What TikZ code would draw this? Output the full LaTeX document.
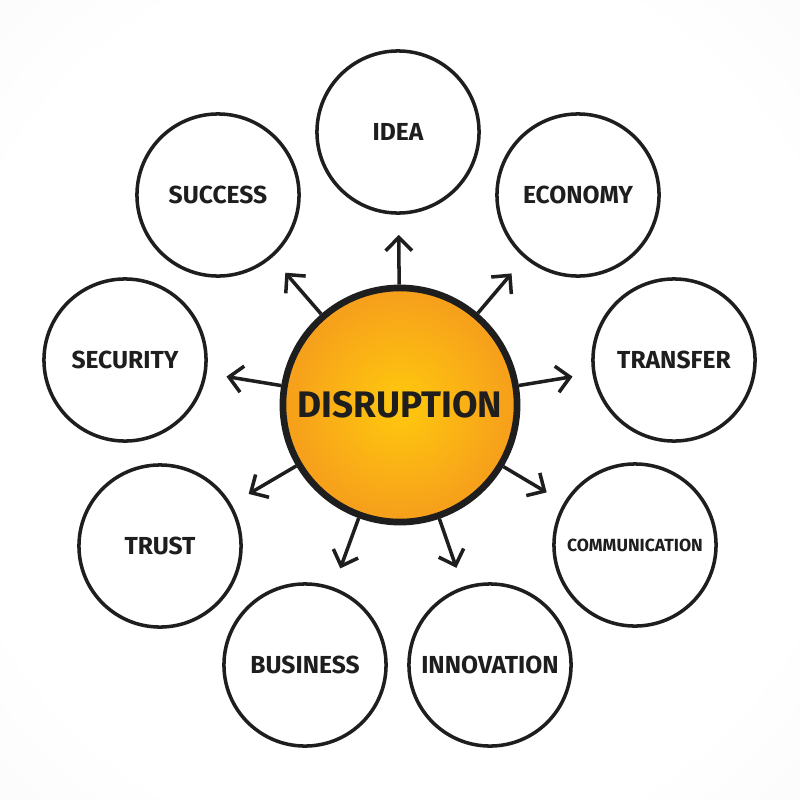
\documentclass[tikz,border=0pt]{standalone}
\usepackage{fontspec}
\setmainfont{Fira Sans}
\usetikzlibrary{arrows.meta}
\definecolor{hubinner}{HTML}{FFC90D}
\definecolor{hubouter}{HTML}{F69E1C}
\definecolor{backgray}{HTML}{EBEBEB}
\definecolor{ink}{HTML}{1E1E1E}
\pgfdeclareradialshading{backdrop}{\pgfpoint{0bp}{0bp}}{color(0bp)=(white); color(28bp)=(white); color(72bp)=(backgray)}

\begin{document}
\begin{tikzpicture}[x=0.01cm,y=-0.01cm,
    topic/.style={circle,draw=ink,line width=1pt,minimum size=1.62cm,inner sep=0pt,text=ink,font=\fontsize{7}{8}\selectfont\bfseries},
    hub/.style={circle,draw=ink,line width=1.9pt,minimum size=2.34cm,inner sep=0pt,inner color=hubinner,outer color=hubouter,text=ink,font=\fontsize{10.5}{12}\selectfont\bfseries},
    spoke/.style={draw=ink,line width=1pt,-{Straight Barb[length=3.8pt,width=7.5pt,line width=1pt]},shorten >=0.2cm}]
    \useasboundingbox (0,0) rectangle (800,800);
    \shade [shading=backdrop] (0,0) rectangle (800,800);
    % centre
    \node [hub] (hub) at (400,405) {DISRUPTION};
    % ring of topics
    \node [topic] (idea) at (398,132) {IDEA};
    \node [topic] (economy) at (578,195) {ECONOMY};
    \node [topic] (transfer) at (674,360) {TRANSFER};
    \node [topic,font=\fontsize{5}{6}\selectfont\bfseries] (communication) at (635,545) {COMMUNICATION};
    \node [topic] (innovation) at (490,665) {INNOVATION};
    \node [topic] (business) at (305,665) {BUSINESS};
    \node [topic] (trust) at (160,546) {TRUST};
    \node [topic] (security) at (125,360) {SECURITY};
    \node [topic] (success) at (218,195) {SUCCESS};
    % spokes
    \draw [spoke] (hub) -- (idea);
    \draw [spoke] (hub) -- (economy);
    \draw [spoke] (hub) -- (transfer);
    \draw [spoke] (hub) -- (communication);
    \draw [spoke] (hub) -- (innovation);
    \draw [spoke] (hub) -- (business);
    \draw [spoke] (hub) -- (trust);
    \draw [spoke] (hub) -- (security);
    \draw [spoke] (hub) -- (success);
\end{tikzpicture}
\end{document}
